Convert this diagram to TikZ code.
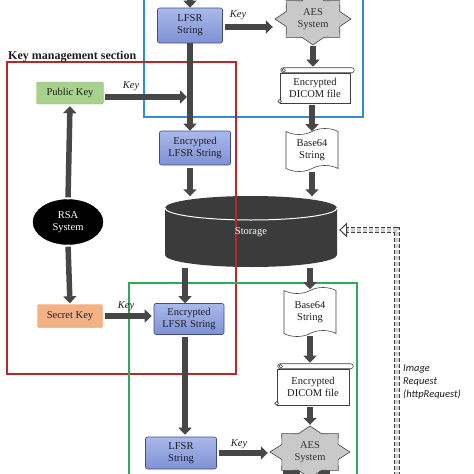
\documentclass[tikz,border=0pt]{standalone}
\usepackage{fontspec}
\setmainfont{Liberation Serif}
\newfontfamily\calib{Carlito}
\usetikzlibrary{arrows.meta,shapes.geometric,shapes.symbols,calc}
\definecolor{txt}{HTML}{1E1E1E}
\definecolor{lfsrtop}{HTML}{AAB9EA}
\definecolor{lfsrbot}{HTML}{7F91D5}
\definecolor{lfsrline}{HTML}{3F4E86}
\definecolor{pubfill}{HTML}{A9D18E}
\definecolor{publine}{HTML}{8CBF6C}
\definecolor{secfill}{HTML}{F4B183}
\definecolor{secline}{HTML}{E59A68}
\definecolor{aesfill}{HTML}{C9C9C9}
\definecolor{aesline}{HTML}{444444}
\definecolor{storfill}{HTML}{3B3B3B}
\definecolor{redbox}{HTML}{B8262E}
\definecolor{bluebox}{HTML}{2E8ECE}
\definecolor{greenbox}{HTML}{2DAA5A}
\definecolor{arrgray}{HTML}{474747}
\newcommand{\aesstar}[4]{\filldraw[starst] plot[variable=\i, samples at={0,1,...,15}] ({#1+(1-0.24*mod(\i,2))*#3*cos(22.5*\i)},{#2+(1-0.24*mod(\i,2))*#4*sin(22.5*\i)}) -- cycle;}
\newcommand{\scrolldeco}[1]{%
  \draw[scrollline, fill=white, rounded corners=2.5pt] ($(#1.north west)+(1,0)$) rectangle ($(#1.north east)+(4,-5)$);
  \draw[scrollline, fill=white] ($(#1.north west)+(4,-2.5)$) circle[radius=1.8pt];
  \draw[scrollline, fill=white] ($(#1.south west)+(0,-2)$) circle[radius=1.8pt];}
\begin{document}
\begin{tikzpicture}[x=1pt,y=-1pt,
  lbl/.style={font=\fontsize{10.5}{11.8}\selectfont, align=center, inner sep=1pt, text=txt},
  lfsrbox/.style={lbl, draw=lfsrline, top color=lfsrtop, bottom color=lfsrbot, rounded corners=2pt, line width=0.6pt},
  pubbox/.style={lbl, draw=publine, fill=pubfill, rounded corners=1.5pt, minimum width=67, minimum height=22},
  secbox/.style={lbl, draw=secline, fill=secfill, rounded corners=1.5pt, minimum width=65, minimum height=23},
  scrollline/.style={draw=black!75, line width=0.6pt},
  scrollbox/.style={lbl, scrollline, fill=white},
  tapebox/.style={lbl, tape, draw=black!75, fill=white, line width=0.6pt, tape bend height=6pt},
  starst/.style={draw=aesline, fill=aesfill, line width=0.6pt},
  blk/.style={line width=5.5pt, draw=arrgray, -{Triangle[length=7pt,width=13pt]}},
  keylbl/.style={font=\fontsize{10.5}{12}\selectfont\itshape, text=txt, inner sep=0},
  reqst/.style={draw=black!75, double=black!18, double distance=3.4pt, line width=1pt, dash pattern=on 4pt off 2pt, -{Triangle[open, length=8pt, width=15pt]}},
  boxline/.style={line width=1.1pt}
]
\useasboundingbox (0,0) rectangle (474,474);
\clip (0,0) rectangle (474,474);
% storage cylinder
\fill[storfill] (165,208) -- (165,255) arc[start angle=180,end angle=360,x radius=86pt,y radius=12pt] -- (337,208) arc[start angle=0,end angle=180,x radius=86pt,y radius=12pt] -- cycle;
\draw[white, line width=1pt] (165,208) arc[start angle=180,end angle=360,x radius=86pt,y radius=12pt];
% section boxes
\draw[boxline, bluebox] (144,-10) rectangle (363,117);
\draw[boxline, redbox] (7,62) rectangle (236,374);
\draw[boxline, greenbox] (129,283) rectangle (357,490);
\node[font=\fontsize{12}{14}\selectfont\bfseries, anchor=base west, inner sep=0, text=txt] (kms) at (8,59) {Key management section};
% stubs below lower AES
\fill[arrgray] (283,466) rectangle (300,480);
\fill[arrgray] (318,466) rectangle (330,480);
% stars
\aesstar{313}{19}{38}{26}
\aesstar{310}{452}{40}{26}
% nodes
\node[lfsrbox, minimum width=65, minimum height=35] (lfsr1) at (190,25.5) {LFSR\\String};
\node[lbl, text=black!80, minimum width=76, minimum height=52, inner sep=0] (aes1) at (313,19) {AES\\System};
\node[scrollbox, minimum width=70, minimum height=30] (dicom1) at (315,88) {Encrypted\\DICOM file};
\node[tapebox, minimum width=52, minimum height=43] (b64a) at (312,150) {Base64\\String};
\node[pubbox] (pub) at (70,93) {Public Key};
\node[lfsrbox, minimum width=71, minimum height=34] (enc1) at (195,148) {Encrypted\\LFSR String};
\node[ellipse, fill=black, draw=black, text=white, font=\fontsize{10.5}{11.8}\selectfont, align=center, minimum width=70, minimum height=45, inner sep=0] (rsa) at (68,222) {RSA\\System};
\node[secbox] (sec) at (70,316) {Secret Key};
\node[lbl, text=white, minimum width=172, minimum height=71, inner sep=0] (storage) at (251,232) {Storage};
\node[lfsrbox, minimum width=70, minimum height=31] (enc2) at (189,319) {Encrypted\\LFSR String};
\node[tapebox, minimum width=52, minimum height=49] (b64b) at (310,312) {Base64\\String};
\node[scrollbox, minimum width=72, minimum height=36] (dicom2) at (313,387) {Encrypted\\DICOM file};
\node[lbl, text=black!80, minimum width=80, minimum height=52, inner sep=0] (aes2) at (310,452) {AES\\System};
\node[lfsrbox, minimum width=71, minimum height=32] (lfsr2) at (181,453) {LFSR\\String};
\scrolldeco{dicom1}
\scrolldeco{dicom2}
% helper coordinates
\coordinate (topin) at (190,-20);
\coordinate (pubto) at (187,97);
\coordinate (xl) at (185,0);
\coordinate (req) at (397,500);
% arrows
\draw[blk] (topin) -- (lfsr1.north);
\draw[blk, shorten <=2pt, shorten >=2pt] ($(lfsr1.east)+(0,1.5)$) -- ($(aes1.west)+(0,8)$);
\draw[blk, shorten <=1pt, shorten >=6pt] (aes1.south) -- (aes1.south |- dicom1.north);
\draw[blk, shorten <=2pt, shorten >=0pt] (b64a.north |- dicom1.south) -- (b64a.north);
\draw[blk, shorten <=3pt] (b64a.south) -- (b64a.south |- storage.north);
\draw[blk] (lfsr1.south) -- (lfsr1.south |- enc1.north);
\draw[blk, shorten <=1pt] (pub.east |- pubto) -- (pubto);
\draw[blk, shorten <=3pt] (lfsr1.south |- enc1.south) -- (lfsr1.south |- storage.north);
\draw[blk, shorten <=2pt, shorten >=2pt] (rsa.north) -- (pub.south);
\draw[blk, shorten <=2pt, shorten >=1pt] (rsa.south) -- (sec.north);
\draw[blk, shorten <=2pt, shorten >=2pt] (sec.east) -- (sec.east -| enc2.west);
\draw[blk] (storage.south -| xl) -- (enc2.north -| xl);
\draw[blk, shorten >=1pt] (storage.south -| b64b.north) -- (b64b.north);
\draw[blk, shorten <=2pt, shorten >=6pt] (b64b.south) -- (b64b.south |- dicom2.north);
\draw[blk, shorten <=2pt, shorten >=1pt] (dicom2.south -| aes2.north) -- (aes2.north);
\draw[blk, shorten <=2pt, shorten >=2pt] (enc2.south -| xl) -- (lfsr2.north -| xl);
\draw[blk, shorten <=2pt, shorten >=2pt] (lfsr2.east) -- (lfsr2.east -| aes2.west);
\draw[reqst] (req) |- ($(storage.east)+(2,-2)$);
% labels
\node[keylbl] (k1) at (238,15) {Key};
\node[keylbl] (k2) at (131,86) {Key};
\node[keylbl] (k3) at (126,306) {Key};
\node[keylbl] (k4) at (239,444) {Key};
\node[font=\fontsize{10.5}{13}\selectfont\calib\itshape, align=left, anchor=north west, inner sep=0, text=txt] (reqtext) at (403,365) {Image\\Request\\(httpRequest)};
\end{tikzpicture}
\end{document}
